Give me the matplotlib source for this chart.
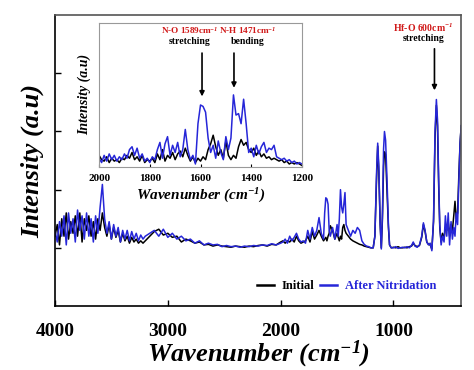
import numpy as np
import matplotlib
matplotlib.use("Agg")
import matplotlib.pyplot as plt

plt.rcParams['font.family'] = ['Liberation Serif', 'DejaVu Serif']
plt.rcParams['mathtext.fontset'] = 'custom'
plt.rcParams['mathtext.rm'] = 'Liberation Serif:bold:italic'
plt.rcParams['mathtext.it'] = 'Liberation Serif:italic:bold'
plt.rcParams['mathtext.bf'] = 'Liberation Serif:bold'

BLUE = '#2626d8'

# ---- main spectrum (wavenumber, intensity a.u.) ----
wn_a = [4000, 3980, 3960, 3940, 3920, 3900, 3880, 3860, 3840, 3820,
        3800, 3780, 3760, 3740, 3720, 3700, 3680, 3660, 3640, 3620,
        3600, 3580, 3560, 3540, 3520, 3500, 3480, 3460, 3440, 3420,
        3400, 3380, 3360, 3340, 3320, 3300, 3280, 3260, 3240, 3220, 3200]
blue_a = [1.30, 1.10, 1.45, 1.20, 1.55, 1.05, 1.60, 1.25, 1.50, 1.10,
          1.65, 1.30, 1.55, 1.15, 1.60, 1.20, 1.50, 1.10, 1.55, 1.25,
          1.70, 2.09, 1.50, 1.25, 1.45, 1.15, 1.40, 1.20, 1.35, 1.10,
          1.30, 1.15, 1.30, 1.12, 1.28, 1.15, 1.25, 1.12, 1.22, 1.15, 1.20]
black_a = [1.20, 1.40, 1.05, 1.50, 1.20, 1.60, 1.15, 1.45, 1.25, 1.55,
           1.20, 1.60, 1.10, 1.50, 1.30, 1.55, 1.20, 1.45, 1.15, 1.50,
           1.30, 1.60, 1.35, 1.20, 1.40, 1.15, 1.35, 1.18, 1.30, 1.10,
           1.25, 1.12, 1.20, 1.08, 1.18, 1.10, 1.15, 1.08, 1.12, 1.08, 1.12]

wn_b = [3160, 3120, 3080, 3040, 3000, 2960, 2920, 2880, 2840, 2800,
        2760, 2720, 2680, 2640, 2600, 2560, 2520, 2480, 2440, 2400,
        2360, 2320, 2280, 2240, 2200, 2160, 2120, 2080, 2040, 2000]
blue_b = [1.25, 1.30, 1.20, 1.32, 1.18, 1.25, 1.15, 1.20, 1.12, 1.15,
          1.08, 1.12, 1.05, 1.08, 1.05, 1.06, 1.02, 1.04, 1.02, 1.03,
          1.01, 1.03, 1.02, 1.04, 1.03, 1.05, 1.04, 1.07, 1.05, 1.08]
black_b = [1.20, 1.28, 1.32, 1.22, 1.25, 1.18, 1.20, 1.10, 1.15, 1.12,
           1.08, 1.10, 1.05, 1.06, 1.03, 1.05, 1.03, 1.02, 1.01, 1.03,
           1.02, 1.01, 1.03, 1.02, 1.04, 1.05, 1.03, 1.06, 1.05, 1.10]

wn_c = [1980, 1960, 1940, 1920, 1900, 1880, 1860, 1840, 1820, 1800,
        1780, 1760, 1740, 1720, 1700, 1680, 1660, 1640, 1620, 1610,
        1600, 1590, 1580, 1570, 1560, 1540, 1520, 1500, 1490, 1480,
        1470, 1460, 1450, 1440, 1430, 1420, 1400, 1380, 1360, 1340,
        1320, 1300, 1280, 1260, 1240, 1220, 1200]
blue_c = [1.10, 1.15, 1.08, 1.20, 1.12, 1.18, 1.25, 1.15, 1.10, 1.12,
          1.08, 1.30, 1.15, 1.35, 1.20, 1.30, 1.52, 1.25, 1.15, 1.60,
          1.86, 1.84, 1.75, 1.30, 1.20, 1.35, 1.15, 1.40, 1.20, 1.50,
          2.00, 1.70, 1.60, 1.75, 1.95, 1.40, 1.30, 1.20, 1.30, 1.25,
          1.35, 1.30, 1.12, 1.06, 1.03, 1.02, 1.00]
black_c = [1.12, 1.08, 1.12, 1.10, 1.15, 1.10, 1.20, 1.12, 1.08, 1.10,
           1.12, 1.20, 1.10, 1.28, 1.15, 1.22, 1.30, 1.20, 1.12, 1.15,
           1.18, 1.12, 1.20, 1.25, 1.38, 1.30, 1.15, 1.25, 1.18, 1.12,
           1.20, 1.15, 1.35, 1.40, 1.30, 1.25, 1.20, 1.15, 1.12, 1.10,
           1.08, 1.06, 1.05, 1.03, 1.02, 1.01, 1.00]

wn_d = [1180, 1165, 1150, 1140, 1130, 1118, 1108, 1098, 1088, 1080,
        1070, 1058, 1045, 1035, 1020, 1000, 980, 960, 940, 920,
        900, 880, 860, 840, 825, 810, 790, 770, 750, 735,
        720, 705, 690, 675, 660, 645, 632, 620, 610, 600,
        590, 578, 565, 552, 540, 528, 515, 503, 490, 478,
        466, 455, 444, 432, 420, 410, 400]
blue_d = [1.00, 1.20, 2.30, 2.80, 2.40, 1.40, 0.98, 1.60, 2.70, 3.00,
          2.85, 2.20, 1.40, 1.05, 1.00, 1.00, 1.02, 0.99, 1.00, 1.01,
          1.00, 1.02, 1.00, 1.04, 1.10, 1.03, 1.01, 1.05, 1.20, 1.43,
          1.30, 1.10, 1.05, 1.08, 0.95, 1.50, 3.00, 3.55, 3.20, 2.20,
          1.40, 1.05, 1.20, 1.10, 1.55, 1.20, 1.60, 1.05, 1.45, 1.15,
          1.35, 1.20, 1.60, 1.40, 2.20, 2.80, 3.10]
black_d = [1.00, 1.20, 2.20, 2.75, 2.30, 1.40, 1.00, 1.50, 2.40, 2.65,
           2.60, 2.00, 1.35, 1.05, 1.00, 1.01, 1.00, 1.02, 1.00, 1.00,
           1.01, 1.00, 1.02, 1.03, 1.08, 1.04, 1.02, 1.04, 1.18, 1.40,
           1.28, 1.10, 1.06, 1.05, 0.98, 1.45, 2.90, 3.45, 3.10, 2.10,
           1.35, 1.10, 1.25, 1.15, 1.35, 1.30, 1.45, 1.20, 1.40, 1.30,
           1.55, 1.80, 1.50, 1.60, 2.30, 2.80, 3.10]

wn_main = wn_a + wn_b + wn_c + wn_d
initial_main = black_a + black_b + black_c + black_d
nitrided_main = blue_a + blue_b + blue_c + blue_d

# ---- inset: 2000-1200 cm-1, step 10 ----
wn_inset = np.arange(2000, 1199, -10)
nitrided_inset = [0.06, 0.03, 0.08, 0.04, 0.09, 0.05, 0.08, 0.04, 0.07, 0.05,
                  0.09, 0.06, 0.12, 0.14, 0.08, 0.13, 0.06, 0.09, 0.04, 0.06,
                  0.03, 0.07, 0.05, 0.12, 0.17, 0.06, 0.16, 0.21, 0.08, 0.15,
                  0.10, 0.17, 0.07, 0.12, 0.26, 0.12, 0.05, 0.08, 0.02, 0.30,
                  0.43, 0.42, 0.38, 0.20, 0.10, 0.15, 0.06, 0.18, 0.10, 0.05,
                  0.21, 0.12, 0.20, 0.50, 0.36, 0.37, 0.30, 0.47, 0.30, 0.10,
                  0.13, 0.07, 0.15, 0.09, 0.14, 0.17, 0.10, 0.13, 0.12, 0.15,
                  0.07, 0.06, 0.05, 0.06, 0.04, 0.05, 0.03, 0.04, 0.02, 0.03,
                  0.02]
initial_inset = [0.08, 0.05, 0.04, 0.07, 0.03, 0.06, 0.04, 0.05, 0.03, 0.06,
                 0.05, 0.08, 0.06, 0.10, 0.05, 0.07, 0.04, 0.08, 0.03, 0.05,
                 0.04, 0.06, 0.03, 0.09, 0.05, 0.12, 0.04, 0.08, 0.06, 0.10,
                 0.05, 0.09, 0.11, 0.07, 0.13, 0.08, 0.04, 0.07, 0.03, 0.06,
                 0.04, 0.07, 0.05, 0.12, 0.16, 0.22, 0.14, 0.08, 0.12, 0.06,
                 0.18, 0.08, 0.05, 0.08, 0.06, 0.14, 0.19, 0.15, 0.17, 0.12,
                 0.10, 0.13, 0.08, 0.11, 0.07, 0.09, 0.06, 0.07, 0.05, 0.06,
                 0.05, 0.04, 0.05, 0.03, 0.04, 0.02, 0.03, 0.02, 0.03, 0.02,
                 0.01]

main_ticks = [4000, 3000, 2000, 1000]
inset_ticks = [2000, 1800, 1600, 1400, 1200]

fig = plt.figure(figsize=(4.74, 3.70), dpi=100)
ax = fig.add_axes([0.116, 0.173, 0.857, 0.786])
ax.plot(wn_main, initial_main, color='black', lw=1.1, label='Initial')
ax.plot(wn_main, nitrided_main, color=BLUE, lw=1.1, label='After Nitridation')
ax.set_xlim(4000, 400)
ax.set_ylim(0, 5)
ax.set_xticks(main_ticks)
ax.set_xticklabels([str(t) for t in main_ticks], fontsize=14, fontweight='bold')
ax.set_yticks([1, 2, 3, 4])
ax.set_yticklabels([])
ax.tick_params(direction='in', length=4, width=1, pad=12)
for s in ax.spines.values():
    s.set_linewidth(1.2)
ax.spines['right'].set_color('#555555')
ax.spines['top'].set_color('#555555')
ax.set_xlabel(r'Wavenumber (cm$^{-1}$)', fontsize=19, fontweight='bold',
              fontstyle='italic', labelpad=-1)
ax.set_ylabel('Intensity (a.u)', fontsize=19, fontweight='bold',
              fontstyle='italic', labelpad=-4)

leg = ax.legend(loc='lower right', ncol=2, frameon=False, handlelength=1.4,
                columnspacing=0.4, handletextpad=0.6, labelcolor='linecolor',
                bbox_to_anchor=(0.95, 0.03), borderaxespad=0,
                prop={'weight': 'bold', 'size': 9})
for h in leg.legend_handles:
    h.set_linewidth(1.8)

ax.text(734, 4.79, r'Hf-O 600cm$^{-1}$', color='#d01818', fontsize=7,
        fontweight='bold', ha='center', va='center')
ax.text(734, 4.6, 'stretching', color='black', fontsize=7,
        fontweight='bold', ha='center', va='center')
ax.annotate('', xy=(637, 3.66), xytext=(637, 4.47),
            arrowprops=dict(arrowstyle='-|>', color='black', lw=1.2,
                            mutation_scale=7))

# ---- inset ----
ins = fig.add_axes([0.209, 0.549, 0.428, 0.389])
ins.set_facecolor('white')
ins.plot(wn_inset, initial_inset, color='black', lw=1.1)
ins.plot(wn_inset, nitrided_inset, color=BLUE, lw=1.1)
ins.set_xlim(2000, 1200)
ins.set_ylim(0, 1)
ins.set_xticks(inset_ticks)
ins.set_xticklabels([str(t) for t in inset_ticks], fontsize=8, fontweight='bold')
ins.set_yticks([])
ins.tick_params(axis='x', direction='in', length=2, pad=5)
for s in ins.spines.values():
    s.set_color('#999999')
    s.set_linewidth(0.8)
ins.set_xlabel(r'Wavenumber (cm$^{-1}$)', fontsize=11, fontweight='bold',
               fontstyle='italic', labelpad=3)
ins.set_ylabel('Intensity (a.u)', fontsize=10, fontweight='bold',
               fontstyle='italic', labelpad=6)

ins.text(1642, 0.95, r'N-O 1589cm$^{-1}$', color='#d01818', fontsize=6.6,
         fontweight='bold', ha='center', va='center')
ins.text(1642, 0.87, 'stretching', color='black', fontsize=7,
         fontweight='bold', ha='center', va='center')
ins.text(1414, 0.95, r'N-H 1471cm$^{-1}$', color='#d01818', fontsize=6.6,
         fontweight='bold', ha='center', va='center')
ins.text(1414, 0.87, 'bending', color='black', fontsize=7,
         fontweight='bold', ha='center', va='center')
ins.annotate('', xy=(1594, 0.47), xytext=(1594, 0.81),
             arrowprops=dict(arrowstyle='-|>', color='black', lw=1.2,
                             mutation_scale=7))
ins.annotate('', xy=(1468, 0.53), xytext=(1468, 0.81),
             arrowprops=dict(arrowstyle='-|>', color='black', lw=1.2,
                             mutation_scale=7))

fig.savefig('out.png', dpi=100)
